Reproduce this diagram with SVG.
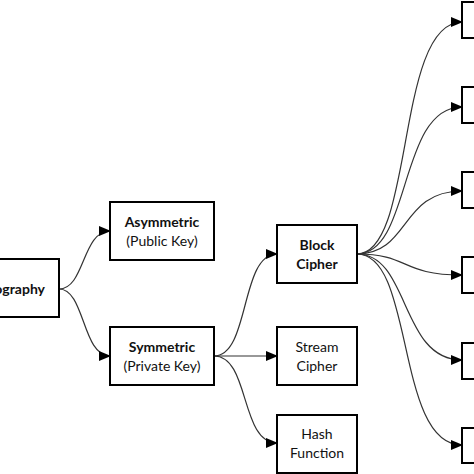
<svg xmlns="http://www.w3.org/2000/svg" width="474" height="474" viewBox="0 0 474 474">
<style>
.box{fill:#fff;stroke:#000;stroke-width:2}
.t{font-family:Lato,"Open Sans","Liberation Sans",sans-serif;font-size:14px;fill:#111;text-anchor:middle}
.b{font-weight:bold}
.c{fill:none;stroke:#333;stroke-width:1.2;marker-end:url(#ah)}
</style>
<defs>
<marker id="ah" markerWidth="12" markerHeight="10" refX="11" refY="5" orient="auto" markerUnits="userSpaceOnUse">
<path d="M0,0 L12,5 L0,10 Z" fill="#000"/>
</marker>
</defs>
<rect width="474" height="474" fill="#fff"/>
<g id="connectors">
<path class="c" d="M59,289 C85,289 82,231 110,231"/>
<path class="c" d="M59,289 C85,289 82,356 110,356"/>
<path class="c" d="M214,356 C250,356 240,254 277,254"/>
<path class="c" d="M214,356 L277,356"/>
<path class="c" d="M214,356 C250,356 240,443 277,443"/>
<path class="c" d="M357,254 C415,254 395,22 462,22"/>
<path class="c" d="M357,254 C412,254 398,107 462,107"/>
<path class="c" d="M357,254 C410,254 400,191 462,191"/>
<path class="c" d="M357,254 C410,254 400,275 462,275"/>
<path class="c" d="M357,254 C410,254 400,360 462,360"/>
<path class="c" d="M357,254 C415,254 395,445 462,445"/>
</g>
<g id="cryptography">
<rect class="box" x="-10" y="259" width="69" height="58"/>
<text class="t b" x="45" y="294" style="text-anchor:end">Cryptography</text>
</g>
<g id="asymmetric">
<rect class="box" x="110" y="202" width="104" height="58"/>
<text class="t b" x="162" y="227">Asymmetric</text>
<text class="t" x="162" y="246">(Public Key)</text>
</g>
<g id="symmetric">
<rect class="box" x="110" y="327" width="104" height="58"/>
<text class="t b" x="162" y="352">Symmetric</text>
<text class="t" x="162" y="371">(Private Key)</text>
</g>
<g id="block-cipher">
<rect class="box" x="277" y="225" width="80" height="58"/>
<text class="t b" x="317" y="250">Block</text>
<text class="t b" x="317" y="269">Cipher</text>
</g>
<g id="stream-cipher">
<rect class="box" x="277" y="327" width="80" height="58"/>
<text class="t" x="317" y="352">Stream</text>
<text class="t" x="317" y="371">Cipher</text>
</g>
<g id="hash-function">
<rect class="box" x="277" y="415" width="80" height="58"/>
<text class="t" x="317" y="439">Hash</text>
<text class="t" x="317" y="458">Function</text>
</g>
<g id="r1"><rect class="box" x="462" y="2" width="30" height="36"/></g>
<g id="r2"><rect class="box" x="462" y="87" width="30" height="36"/></g>
<g id="r3"><rect class="box" x="462" y="172" width="30" height="36"/></g>
<g id="r4"><rect class="box" x="462" y="257" width="30" height="36"/></g>
<g id="r5"><rect class="box" x="462" y="343" width="30" height="36"/></g>
<g id="r6"><rect class="box" x="462" y="428" width="30" height="35"/></g>
</svg>
